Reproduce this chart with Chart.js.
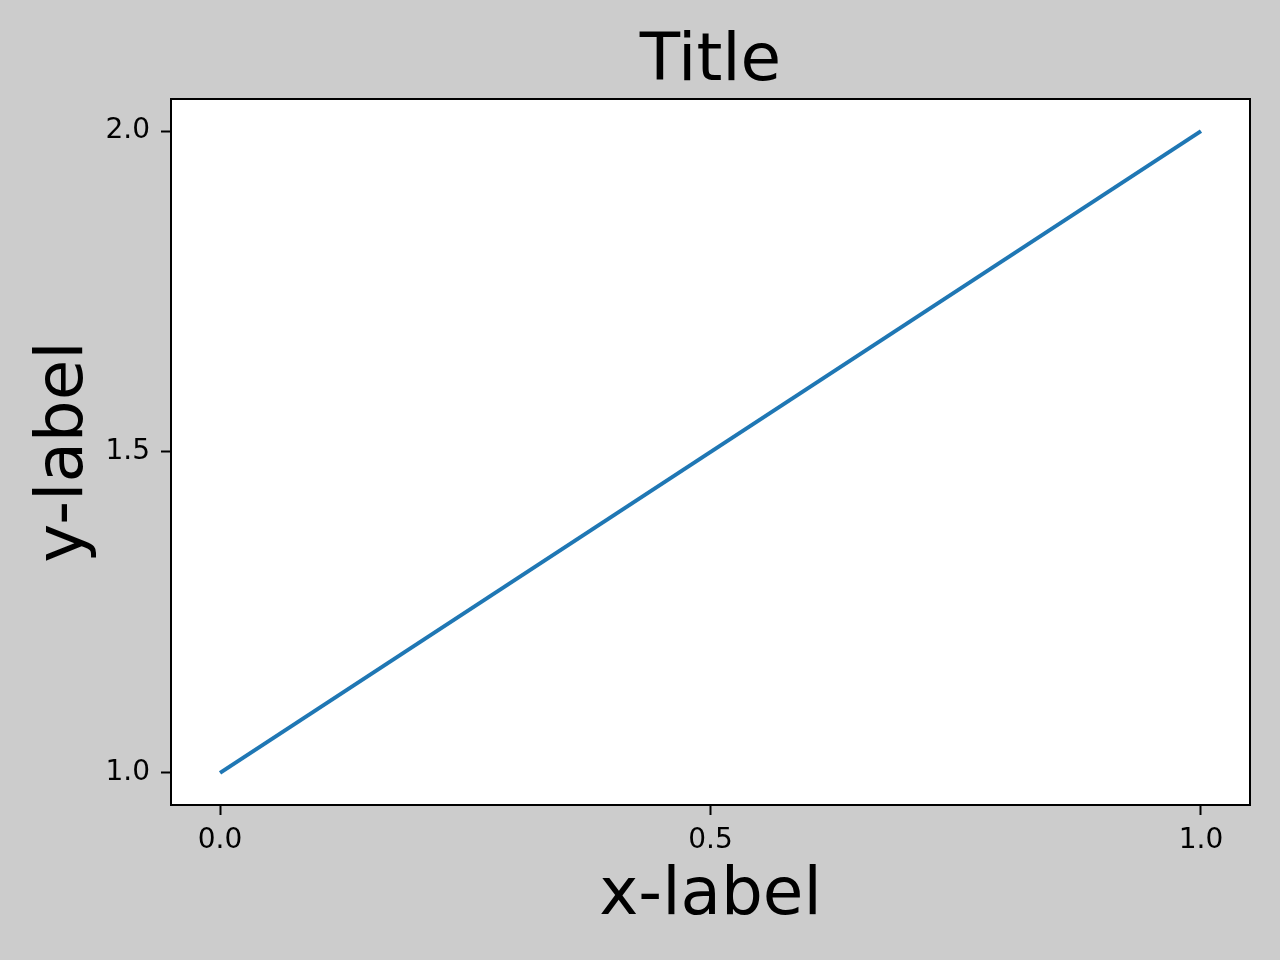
<!DOCTYPE html>
<html>
<head>
<meta charset="utf-8">
<script src="https://cdn.jsdelivr.net/npm/chart.js@4"></script>
<style>
  html, body { margin: 0; padding: 0; background: #cccccc; }
  canvas { display: block; }
</style>
</head>
<body>
<canvas id="myChart" width="1280" height="960"></canvas>
<script>
const xValues = [0, 1];
const yValues = [1, 2];
const xTicks = [0, 0.5, 1.0];
const yTicks = [1.0, 1.5, 2.0];

const FONT = 'DejaVu Sans';

// белая область графика + рамка со всех сторон
const framePlugin = {
    id: 'frame',
    beforeDraw(chart) {
        const { ctx, chartArea } = chart;
        ctx.save();
        ctx.fillStyle = '#ffffff';
        ctx.fillRect(chartArea.left, chartArea.top, chartArea.right - chartArea.left, chartArea.bottom - chartArea.top);
        ctx.restore();
    },
    afterDraw(chart) {
        const { ctx, chartArea } = chart;
        ctx.save();
        ctx.strokeStyle = '#000000';
        ctx.lineWidth = 2;
        ctx.strokeRect(chartArea.left, chartArea.top, chartArea.right - chartArea.left, chartArea.bottom - chartArea.top);
        ctx.restore();
    }
};

const ctx = document.getElementById('myChart').getContext('2d');

const chart = new Chart(ctx, {
    type: 'line',
    data: {
        datasets: [{
            label: 'line',
            data: xValues.map((x, i) => ({ x: x, y: yValues[i] })),
            borderColor: '#1f77b4',
            borderWidth: 4,
            pointRadius: 0,
            tension: 0,
            fill: false
        }]
    },
    options: {
        responsive: false,
        animation: false,
        devicePixelRatio: 1,
        layout: { padding: { left: 0, right: 30, top: 0, bottom: 0 } },
        scales: {
            x: {
                type: 'linear',
                min: -0.05,
                max: 1.05,
                afterBuildTicks: scale => { scale.ticks = xTicks.map(v => ({ value: v })); },
                afterFit: scale => { scale.height = 155; },
                ticks: {
                    color: '#000000',
                    padding: 9,
                    maxRotation: 0,
                    font: { family: FONT, size: 28 },
                    callback: v => v.toFixed(1)
                },
                grid: { drawOnChartArea: false, drawTicks: true, tickLength: 10, tickWidth: 2, tickColor: '#000000' },
                border: { display: true, color: '#000000', width: 2 },
                title: {
                    display: true,
                    text: 'x-label',
                    color: '#000000',
                    font: { family: FONT, size: 66, lineHeight: 1 },
                    padding: { top: 0, bottom: 30 }
                }
            },
            // верхняя ось только для заголовка, чтобы он был по центру области графика
            xTop: {
                type: 'linear',
                position: 'top',
                afterFit: scale => { scale.height = 99; },
                ticks: { display: false },
                grid: { display: false },
                border: { display: false },
                title: {
                    display: true,
                    text: 'Title',
                    color: '#000000',
                    font: { family: FONT, size: 66, lineHeight: 1 },
                    padding: { top: 30, bottom: 0 }
                }
            },
            y: {
                type: 'linear',
                min: 0.95,
                max: 2.05,
                afterBuildTicks: scale => { scale.ticks = yTicks.map(v => ({ value: v })); },
                afterFit: scale => { scale.width = 171; },
                ticks: {
                    color: '#000000',
                    padding: 11,
                    font: { family: FONT, size: 28 },
                    callback: v => v.toFixed(1)
                },
                grid: { drawOnChartArea: false, drawTicks: true, tickLength: 10, tickWidth: 2, tickColor: '#000000' },
                border: { display: true, color: '#000000', width: 2 },
                title: {
                    display: true,
                    text: 'y-label',
                    color: '#000000',
                    font: { family: FONT, size: 66, lineHeight: 1 },
                    padding: { top: 32, bottom: 0 }
                }
            }
        },
        plugins: {
            legend: { display: false },
            tooltip: { enabled: false },
            title: { display: false }
        }
    },
    plugins: [framePlugin]
});
</script>
</body>
</html>
